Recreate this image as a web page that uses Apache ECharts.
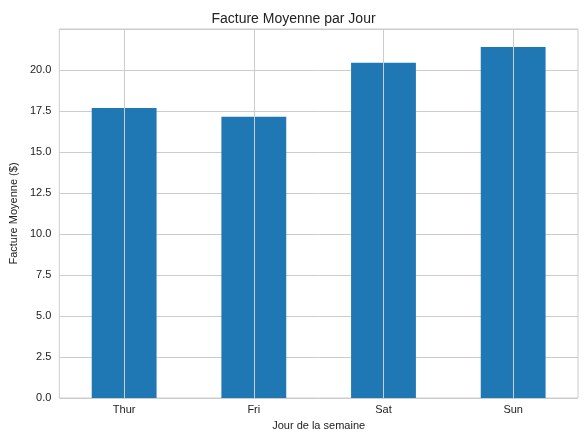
<!DOCTYPE html>
<html><head><meta charset="utf-8">
<script src="https://cdn.jsdelivr.net/npm/echarts@6/dist/echarts.min.js"></script>
<style>html,body{margin:0;padding:0;background:#fff}#c{width:587px;height:442px}</style>
</head><body><div id="c"></div>
<script>
const categories = ['Thur','Fri','Sat','Sun'];
const meanBill = [17.68, 17.15, 20.44, 21.41];
const yTicks = [0, 2.5, 5, 7.5, 10, 12.5, 15, 17.5, 20];
const chart = echarts.init(document.getElementById('c'));
const font = 'Liberation Sans, DejaVu Sans, sans-serif';
chart.setOption({
  animation:false,
  title:{text:'Facture Moyenne par Jour',left:'center',top:7,textStyle:{fontSize:14,fontWeight:'normal',color:'#222',fontFamily:font}},
  grid:{left:57,right:9,top:29,bottom:44,show:true,borderColor:'#cccccc',borderWidth:1},
  xAxis:{type:'category',data:categories,name:'Jour de la semaine',nameLocation:'middle',nameGap:22,
    nameTextStyle:{fontSize:11,color:'#222',fontFamily:font},
    axisLine:{show:false},axisTick:{show:false},axisLabel:{fontSize:11,color:'#222',margin:6,fontFamily:font},splitLine:{show:false}},
  yAxis:{type:'value',min:0,max:22.5,interval:2.5,name:'Facture Moyenne ($)',nameLocation:'middle',nameGap:36,
    nameTextStyle:{fontSize:11,color:'#222',fontFamily:font},
    axisLine:{show:false},axisTick:{show:false},
    axisLabel:{fontSize:11,color:'#222',fontFamily:font,formatter:v=>yTicks.includes(v)?v.toFixed(1):''},
    splitLine:{lineStyle:{color:'#cccccc',width:1}}},
  series:[
    {type:'line',data:[],z:0,markLine:{silent:true,symbol:'none',label:{show:false},
      lineStyle:{color:'#cccccc',type:'solid',width:1},data:categories.map(c=>({xAxis:c}))}},
    {type:'bar',data:meanBill,barWidth:'50%',itemStyle:{color:'#1f77b4'},z:2}
  ]
});
</script></body></html>
